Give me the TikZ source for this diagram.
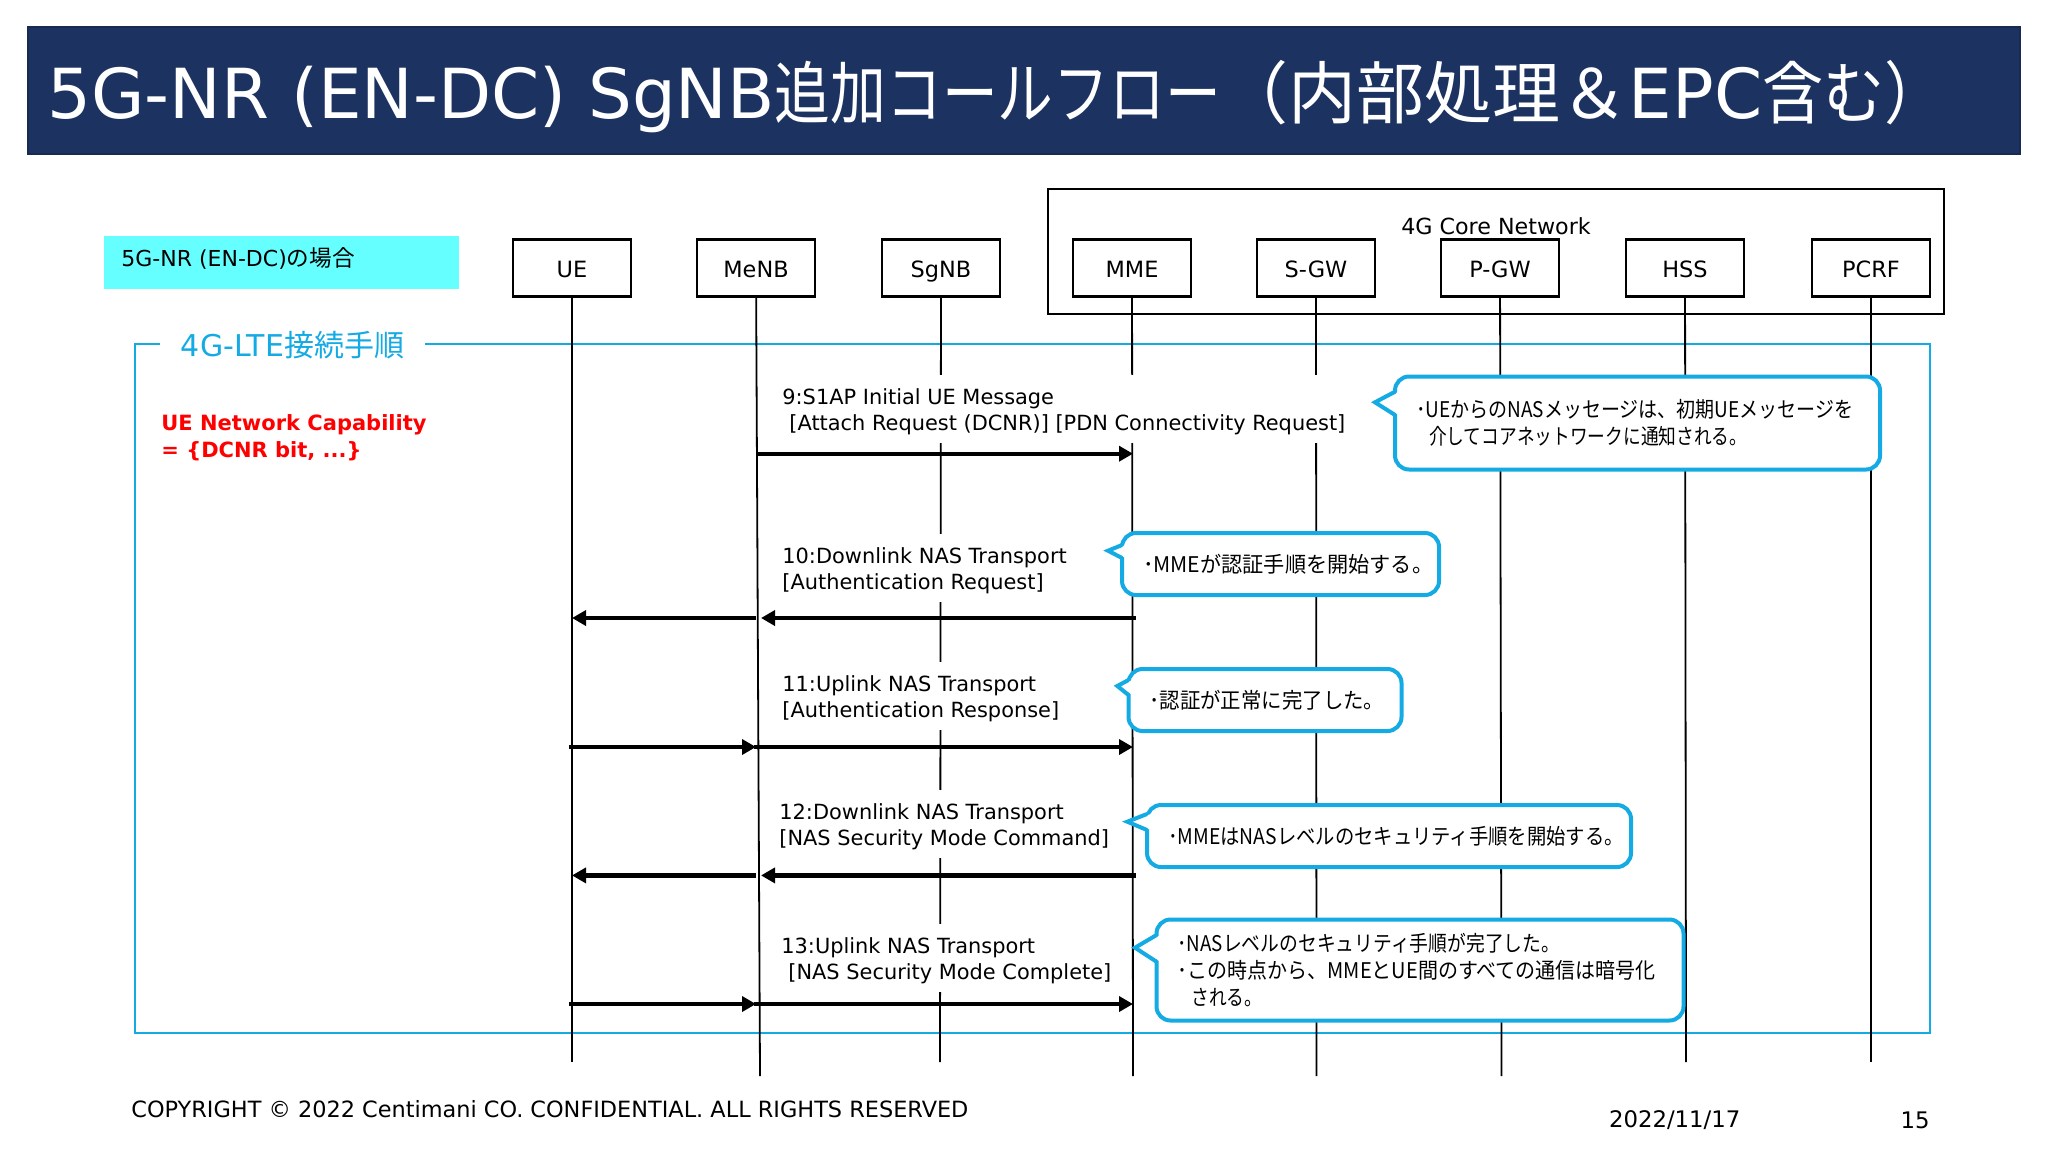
\documentclass[tikz,border=0pt]{standalone}
\usepackage{fontspec}
\setmainfont{DejaVu Sans}
\newfontfamily\cjkn{Noto Sans CJK JP}
\usetikzlibrary{arrows.meta}
\definecolor{navy}{RGB}{28,50,96}
\definecolor{lteblue}{RGB}{20,170,228}
\definecolor{capcyan}{RGB}{102,255,255}
\newcommand{\cjkfit}[2]{\scalebox{#1}[1]{#2}}
\tikzstyle{actor} = [rectangle, minimum width=59pt, minimum height=28.5pt, text height=9.6pt, text depth=0.3pt, text centered, draw=black, line width=1.1pt, fill=white, font=\fontsize{11.2}{13}\selectfont]
\tikzstyle{lifeline} = [line width=0.9pt]
\tikzstyle{msg} = [fill=white, align=left, anchor=west, inner xsep=3pt, inner ysep=0pt, minimum height=34pt, font=\fontsize{10.45}{12.9}\selectfont]
\tikzstyle{note} = [rectangle, rounded corners=7pt, draw=lteblue, line width=2pt, fill=white, align=left, inner xsep=10.5pt, inner ysep=0pt, font=\cjkn\fontsize{10.8}{13.6}\selectfont]
\tikzstyle{notetip} = [draw=lteblue, line width=2pt, miter limit=10]
\tikzstyle{arrow} = [line width=2.2pt,->,>={Stealth[length=7pt,width=7.5pt,inset=0pt]}]
\newcommand{\tipof}[4]{
  \fill [white] ([xshift=3pt]#1.west |- 0,#3) -- (#2) -- ([xshift=3pt]#1.west |- 0,#4) -- cycle;
  \draw [notetip] ([xshift=1pt]#1.west |- 0,#3) -- (#2) -- ([xshift=1pt]#1.west |- 0,#4);
}
\newcommand{\titlecjk}[2]{{\cjkn\fontsize{34}{40}\selectfont\cjkfit{#1}{#2}}}
\newcommand{\msgtop}{\rule{0pt}{11pt}}
\begin{document}
\begin{tikzpicture}[x=0.5pt, y=-0.5pt, node distance=92pt]
\useasboundingbox (0,0) rectangle (2048,1152);

\node (titlebar) [rectangle, draw=navy!85!black, line width=1pt, fill=navy, minimum width=996pt, minimum height=63.5pt] at (1023.5,90) {};
\node (title) [anchor=base west, inner sep=0pt, text=white, font=\fontsize{34.5}{40}\selectfont] at (47,118) {5G-NR (EN-DC) SgNB\titlecjk{0.82}{追加コールフロー}\titlecjk{1.0}{（内部処理＆}EPC\titlecjk{0.9}{含む）}};

\node (corebox) [rectangle, draw=black, line width=1.1pt, minimum width=448pt, minimum height=62.5pt] at (1495.7,251.5) {};
\node (corelabel) [font=\fontsize{11.1}{13}\selectfont] at (1496,226) {4G Core Network};

\node (ue) [actor] at (572,268) {UE};
\node (menb) [actor, right of=ue] {MeNB};
\node (sgnb) [actor, right of=menb, xshift=0.5pt] {SgNB};
\node (mme) [actor, right of=sgnb, xshift=3.5pt] {MME};
\node (sgw) [actor, right of=mme] {S-GW};
\node (pgw) [actor, right of=sgw] {P-GW};
\node (hss) [actor, right of=pgw, xshift=0.5pt] {HSS};
\node (pcrf) [actor, right of=hss, xshift=1pt] {PCRF};

\node (case) [rectangle, fill=capcyan, minimum width=177.5pt, minimum height=26.5pt] at (281.7,262) {};
\node (caselabel) [anchor=west, inner sep=0pt, font=\fontsize{11}{13}\selectfont] at (121,258) {5G-NR (EN-DC){\cjkn\fontsize{11.3}{13}\selectfont の場合}};

\coordinate (frametl) at (135,343.5);
\coordinate (framebr) at (1930,1032.5);
\draw [draw=lteblue, line width=1pt] (frametl) rectangle (framebr);
\node (ltelabel) [fill=white, text=lteblue, inner xsep=10.5pt, inner ysep=1pt, font=\fontsize{15}{18}\selectfont] at (292.5,345) {4G-LTE{\cjkn 接続手順}};

\node (capability) [anchor=north west, align=left, inner sep=0pt, text=red, font=\bfseries\fontsize{10.5}{13.5}\selectfont] at (161,414) {UE Network Capability\\= \{DCNR bit, ...\}};

\coordinate (ueend) at (572,1062);
\coordinate (menbend) at (760,1076);
\coordinate (sgnbend) at (940,1062);
\coordinate (mmeend) at (1133,1076);
\coordinate (sgwend) at (1316.5,1076);
\coordinate (pgwend) at (1501.5,1076);
\coordinate (hssend) at (1686,1062);
\coordinate (pcrfend) at (1871,1062);
\draw [lifeline] (ue) -- (ueend);
\draw [lifeline] (menb) -- (menbend);
\draw [lifeline] (sgnb) -- (sgnbend);
\draw [lifeline] (mme) -- (mmeend);
\draw [lifeline] (sgw) -- (sgwend);
\draw [lifeline] (pgw) -- (pgwend);
\draw [lifeline] (hss) -- (hssend);
\draw [lifeline] (pcrf) -- (pcrfend);

\node (msg9) [msg] at (776,409) {\msgtop 9:S1AP Initial UE Message\\\hspace{3.5pt}[Attach Request (DCNR)] [PDN Connectivity Request]};
\node (msg10) [msg] at (776,567.5) {\msgtop 10:Downlink NAS Transport\\{}[Authentication Request]};
\node (msg11) [msg] at (776,695.6) {\msgtop 11:Uplink NAS Transport\\{}[Authentication Response]};
\node (msg12) [msg] at (773,824) {\msgtop 12:Downlink NAS Transport\\{}[NAS Security Mode Command]};
\node (msg13) [msg] at (775,958) {\msgtop 13:Uplink NAS Transport\\\hspace{3.5pt}[NAS Security Mode Complete]};

\coordinate (m9) at (0,453.7);
\coordinate (m10) at (0,618);
\coordinate (m11) at (0,747);
\coordinate (m12) at (0,875.4);
\coordinate (m13) at (0,1004);

\draw [arrow, shorten >=-0.5pt] (menb |- m9) -- (mme |- m9);
\draw [arrow, shorten <=-2pt, shorten >=2.5pt] (mme |- m10) -- (menb |- m10);
\draw [arrow] (menb |- m10) -- (ue |- m10);
\draw [arrow, shorten <=-1.5pt] (ue |- m11) -- (menb |- m11);
\draw [arrow, shorten <=-1pt, shorten >=-0.5pt] (menb |- m11) -- (mme |- m11);
\draw [arrow, shorten <=-2pt, shorten >=2.5pt] (mme |- m12) -- (menb |- m12);
\draw [arrow] (menb |- m12) -- (ue |- m12);
\draw [arrow, shorten <=-1.5pt] (ue |- m13) -- (menb |- m13);
\draw [arrow, shorten <=-1pt, shorten >=-0.5pt] (menb |- m13) -- (mme |- m13);

\node (note9) [note, minimum width=242.5pt, minimum height=46.5pt, text width=221.5pt] at (1637.5,423) {\cjkfit{0.88}{･UEからのNASメッセージは、初期UEメッセージを}\\\hspace{6.5pt}\cjkfit{0.82}{介してコアネットワークに通知される。}};
\tipof{note9}{1375,402.3}{391.7}{415}
\node (note10) [note, minimum width=158.5pt, minimum height=31pt, text width=137.5pt] at (1280.5,564) {\cjkfit{0.98}{･MMEが認証手順を開始する。}};
\tipof{note10}{1108,550.7}{545}{558}
\node (note11) [note, minimum width=136.5pt, minimum height=31pt, text width=115.5pt] at (1265,700) {\cjkfit{0.945}{･認証が正常に完了した。}};
\tipof{note11}{1117.3,686}{680}{695}
\node (note12) [note, minimum width=242pt, minimum height=31pt, text width=221pt] at (1389,836) {\cjkfit{0.895}{･MMEはNASレベルのセキュリティ手順を開始する。}};
\tipof{note12}{1127.3,821.7}{814}{830}
\node (note13) [note, minimum width=263.5pt, minimum height=50.5pt, text width=242.5pt] at (1420,970) {\cjkfit{0.87}{･NASレベルのセキュリティ手順が完了した。}\\\cjkfit{0.926}{･この時点から、MMEとUE間のすべての通信は暗号化}\\\hspace{7pt}\cjkfit{0.82}{される。}};
\tipof{note13}{1135,947.7}{935}{961.7}

\node (copyright) [anchor=west, inner sep=0pt, font=\fontsize{11.2}{13}\selectfont] at (131,1109.5) {COPYRIGHT © 2022 Centimani CO. CONFIDENTIAL. ALL RIGHTS RESERVED};
\node (date) [anchor=west, inner sep=0pt, font=\fontsize{11.4}{13}\selectfont] at (1608.6,1120) {2022/11/17};
\node (page) [anchor=east, inner sep=0pt, font=\fontsize{11.4}{13}\selectfont] at (1930,1120) {15};
\end{tikzpicture}
\end{document}
